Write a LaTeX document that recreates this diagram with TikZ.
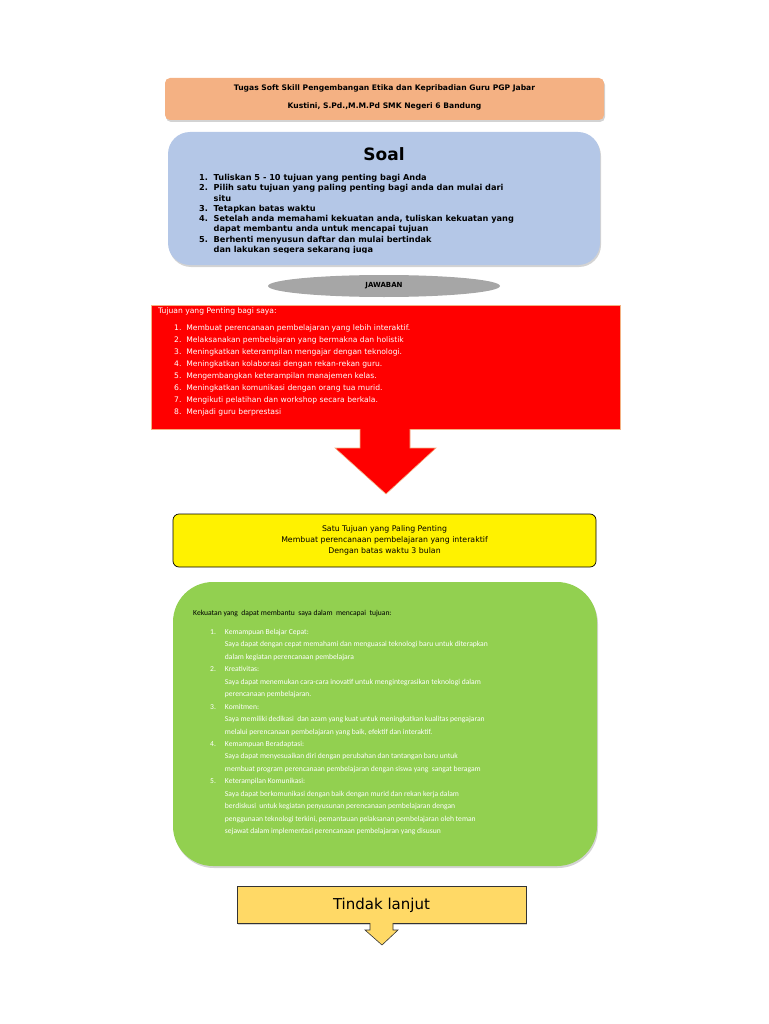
\documentclass[tikz,border=0pt]{standalone}
\usepackage{fontspec}
\setmainfont{DejaVu Sans}
\newfontfamily\carl{Carlito}
\usetikzlibrary{shapes.geometric,shadows}
\definecolor{orng}{HTML}{F4B183}
\definecolor{blu}{HTML}{B4C7E7}
\definecolor{gry}{HTML}{A6A6A6}
\definecolor{grn}{HTML}{92D050}
\definecolor{gold}{HTML}{FFD966}
\definecolor{edge}{HTML}{F4B183}
\tikzset{shd/.style={drop shadow={shadow xshift=1pt,shadow yshift=-2pt,opacity=0.35}}}
\begin{document}
\begin{tikzpicture}[x=1pt,y=-1pt]
\useasboundingbox (0,0) rectangle (768,1024);
% header
\draw[fill=orng,draw=none,rounded corners=5pt,shd] (165,78) rectangle (604,120);
\node[font=\fontsize{7.6}{9}\selectfont\bfseries] (hd1) at (384.5,88) {Tugas Soft Skill Pengembangan Etika dan Kepribadian Guru PGP Jabar};
\node[font=\fontsize{7.6}{9}\selectfont\bfseries] (hd2) at (384.5,106) {Kustini, S.Pd.,M.M.Pd SMK Negeri 6 Bandung};
% soal
\draw[fill=blu,draw=none,rounded corners=22pt,shd] (168,132) rectangle (600,265);
\node[font=\fontsize{17}{20}\selectfont\bfseries] (soal) at (384,154) {Soal};
\begin{scope}
\clip (168,172) rectangle (600,252);
\node[anchor=north west,align=left,font=\fontsize{8.2}{10.3}\selectfont\bfseries,inner sep=0] (sl) at (199,174) {%
1.\ \ Tuliskan 5 - 10 tujuan yang penting bagi Anda\\
2.\ \ Pilih satu tujuan yang paling penting bagi anda dan mulai dari\\
\hphantom{2.\ \ }situ\\
3.\ \ Tetapkan batas waktu\\
4.\ \ Setelah anda memahami kekuatan anda, tuliskan kekuatan yang\\
\hphantom{4.\ \ }dapat membantu anda untuk mencapai tujuan\\
5.\ \ Berhenti menyusun daftar dan mulai bertindak\\
\hphantom{5.\ \ }dan lakukan segera sekarang juga};
\end{scope}
% jawaban
\node[ellipse,fill=gry,minimum width=232pt,minimum height=22pt,inner sep=0,font=\fontsize{7}{8}\selectfont\bfseries] (jaw) at (384,286) {JAWABAN};
% red box
\draw[fill=red,draw=edge,line width=0.8pt] (151,305) rectangle (620,429);
\node[anchor=north west,text=white,font=\fontsize{7.6}{9}\selectfont,inner sep=0] (tj) at (158,308) {Tujuan yang Penting bagi saya:};
\node[anchor=north west,text=white,align=left,font=\fontsize{7.6}{11.9}\selectfont,inner sep=0] (tl) at (174,325) {%
1.\ \ Membuat perencanaan pembelajaran yang lebih interaktif.\\
2.\ \ Melaksanakan pembelajaran yang bermakna dan holistik\\
3.\ \ Meningkatkan keterampilan mengajar dengan teknologi.\\
4.\ \ Meningkatkan kolaborasi dengan rekan-rekan guru.\\
5.\ \ Mengembangkan keterampilan manajemen kelas.\\
6.\ \ Meningkatkan komunikasi dengan orang tua murid.\\
7.\ \ Mengikuti pelatihan dan workshop secara berkala.\\
8.\ \ Menjadi guru berprestasi};
\draw[fill=red,draw=edge,line width=0.6pt] (360,429) -- (360,448) -- (335,448) -- (386,494) -- (436,448) -- (410,448) -- (410,429);
\fill[red] (361,428) rectangle (409,431);
% yellow
\draw[fill=yellow,draw=black,line width=0.7pt,rounded corners=6pt] (173,514) rectangle (596,567);
\node[align=center,font=\fontsize{7.8}{11}\selectfont] (one) at (384.5,540) {Satu Tujuan yang Paling Penting\\Membuat perencanaan pembelajaran yang interaktif\\Dengan batas waktu 3 bulan};
% green
\draw[fill=grn,draw=none,rounded corners=40pt,shd] (173,582) rectangle (597,866);
\node[anchor=north west,font=\carl\fontsize{7.6}{9}\selectfont,inner sep=0] (kk) at (193,610) {Kekuatan yang\ \ dapat membantu\ \ saya dalam\ \ mencapai\ \ tujuan:};
\node[anchor=north west,align=left,text=white,font=\carl\fontsize{7.6}{12.45}\selectfont,inner sep=0] (kl) at (210,629) {%
1.\hspace{9pt}Kemampuan Belajar Cepat:\\
\hphantom{1.\hspace{9pt}}Saya dapat dengan cepat memahami dan menguasai teknologi baru untuk diterapkan\\
\hphantom{1.\hspace{9pt}}dalam kegiatan perencanaan pembelajara\\
2.\hspace{9pt}Kreativitas:\\
\hphantom{1.\hspace{9pt}}Saya dapat menemukan cara-cara inovatif untuk mengintegrasikan teknologi dalam\\
\hphantom{1.\hspace{9pt}}perencanaan pembelajaran.\\
3.\hspace{9pt}Komitmen:\\
\hphantom{1.\hspace{9pt}}Saya memiliki dedikasi\ \ dan azam yang kuat untuk meningkatkan kualitas pengajaran\\
\hphantom{1.\hspace{9pt}}melalui perencanaan pembelajaran yang baik, efektif dan interaktif.\\
4.\hspace{9pt}Kemampuan Beradaptasi:\\
\hphantom{1.\hspace{9pt}}Saya dapat menyesuaikan diri dengan perubahan dan tantangan baru untuk\\
\hphantom{1.\hspace{9pt}}membuat program perencanaan pembelajaran dengan siswa yang\ \ sangat beragam\\
5.\hspace{9pt}Keterampilan Komunikasi:\\
\hphantom{1.\hspace{9pt}}Saya dapat berkomunikasi dengan baik dengan murid dan rekan kerja dalam\\
\hphantom{1.\hspace{9pt}}berdiskusi\ \ untuk kegiatan penyusunan perencanaan pembelajaran dengan\\
\hphantom{1.\hspace{9pt}}penggunaan teknologi terkini, pemantauan pelaksanan pembelajaran oleh teman\\
\hphantom{1.\hspace{9pt}}sejawat dalam implementasi perencanaan pembelajaran yang disusun};
% tindak lanjut
\draw[fill=gold,draw=black!80,line width=0.7pt,shd] (237,886) rectangle (526,923);
\node[font=\fontsize{15}{18}\selectfont] (tl2) at (381.5,905) {Tindak lanjut};
\draw[fill=gold,draw=black!80,line width=0.6pt] (370,923) -- (370,930) -- (365,930) -- (382,945) -- (398,930) -- (393,930) -- (393,923);
\end{tikzpicture}
\end{document}
